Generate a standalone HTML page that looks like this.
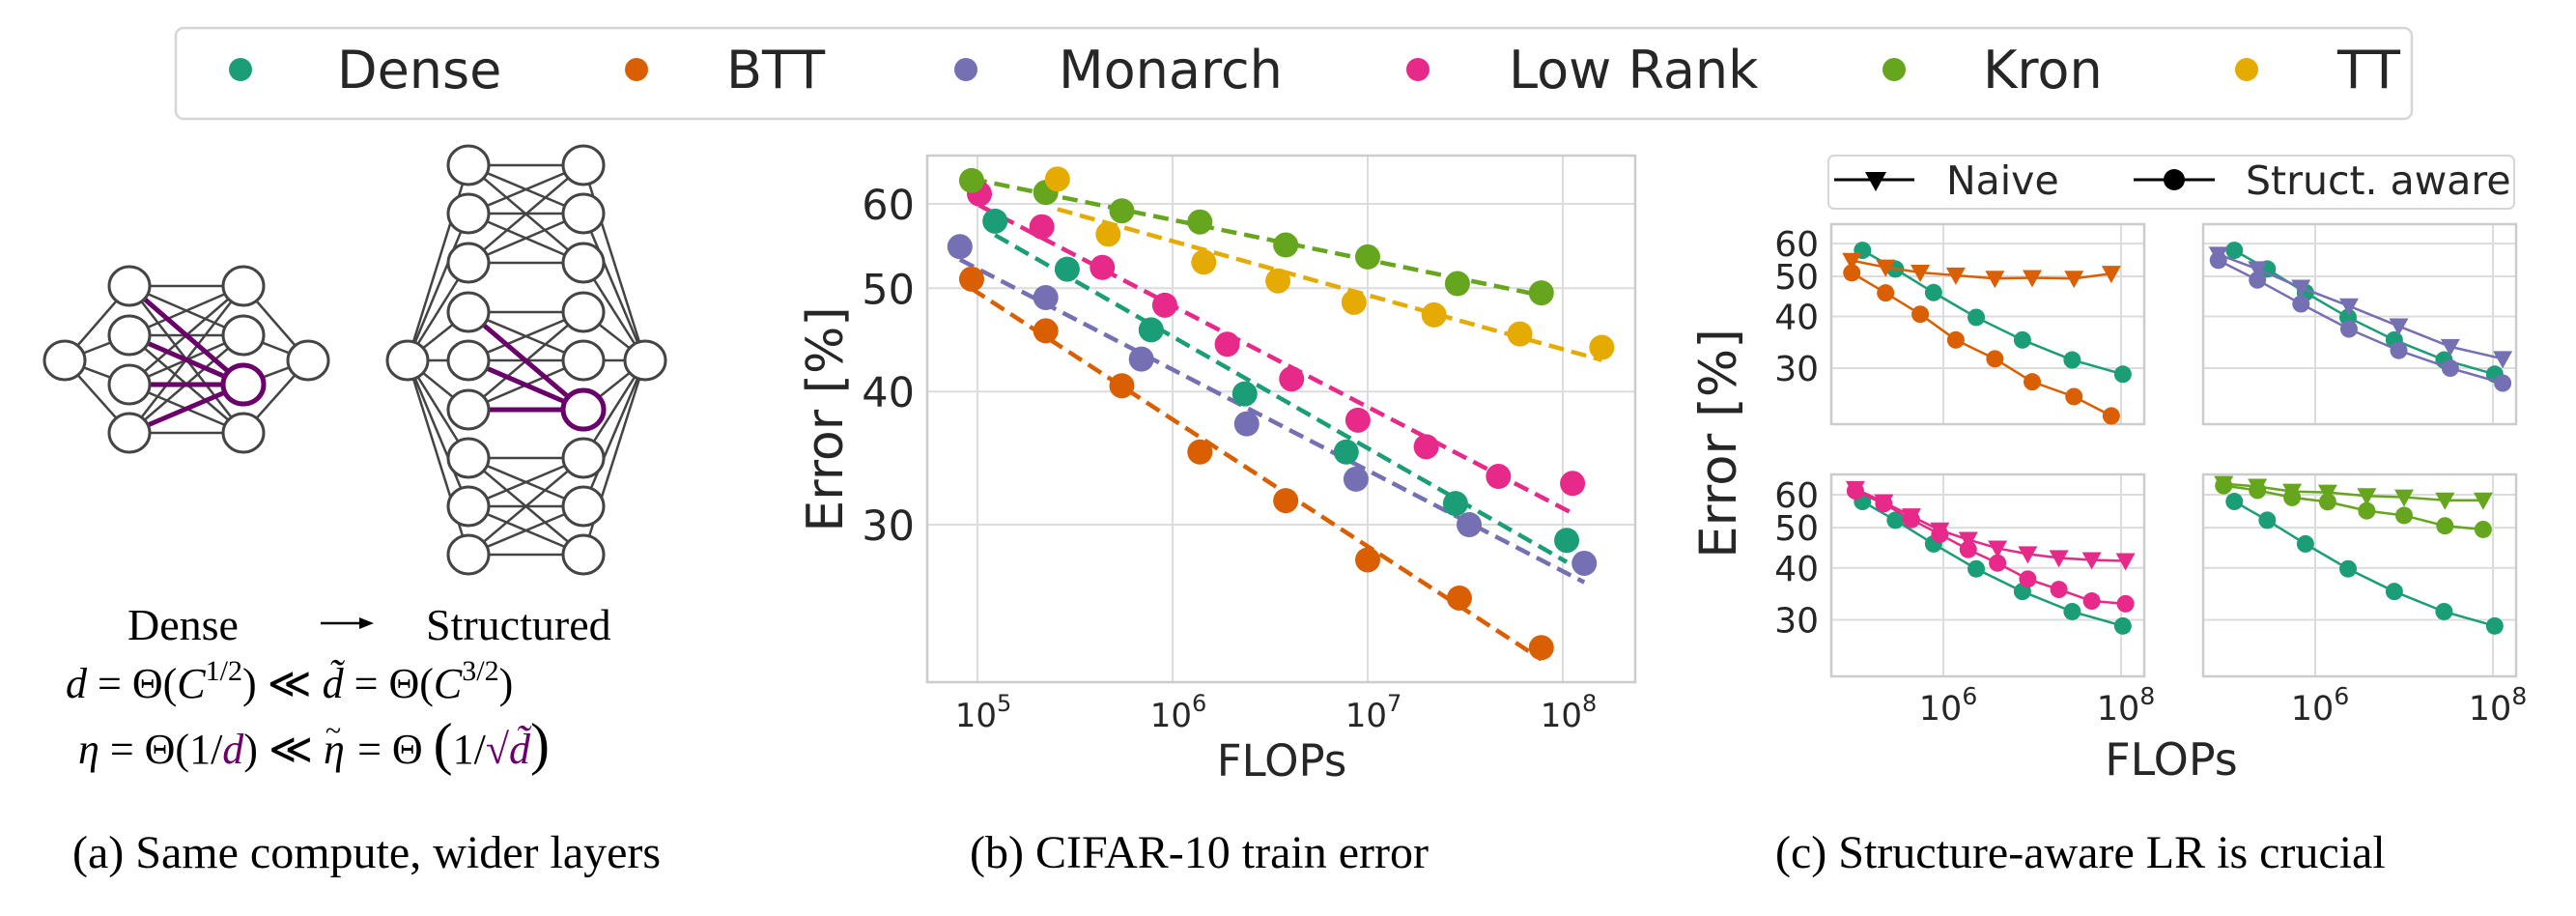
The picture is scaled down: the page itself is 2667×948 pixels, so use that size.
<!DOCTYPE html>
<html><head><meta charset="utf-8"><style>
html,body{margin:0;padding:0;background:#fff;}
svg{display:block;}
.tk{font-family:"DejaVu Sans","Liberation Sans",sans-serif;fill:#262626;}
.sr{font-family:"Liberation Serif",serif;fill:#000;}
</style></head><body>
<svg id="fig" width="2667" height="948" viewBox="0 0 2667 948" xmlns="http://www.w3.org/2000/svg">
<g id="legend">
<rect x="182" y="29" width="2315" height="94" rx="8" fill="#fff" stroke="#d6d6d6" stroke-width="2.5"/>
</g>
<g id="netA"></g>
<g id="netB"></g>
<g>
<text class="sr" x="132" y="662" font-size="46">Dense</text>
<line x1="332" y1="645" x2="380" y2="645" stroke="#000" stroke-width="2.5"/>
<path d="M372 639 L387 645 L372 651 Z" fill="#000"/>
<text class="sr" x="441" y="662" font-size="46">Structured</text>
</g>
<text class="sr" x="68" y="722" font-size="44"><tspan font-style="italic">d</tspan> = Θ(<tspan font-style="italic">C</tspan><tspan font-size="30" dy="-18">1/2</tspan><tspan dy="18">) ≪ </tspan><tspan font-style="italic">d̃</tspan> = Θ(<tspan font-style="italic">C</tspan><tspan font-size="30" dy="-18">3/2</tspan><tspan dy="18">)</tspan></text>
<text class="sr" x="81" y="790" font-size="44"><tspan font-style="italic">η</tspan> = Θ(1/<tspan font-style="italic" fill="#6a006a">d</tspan>)  ≪  <tspan font-style="italic">η</tspan><tspan dx="-20" dy="-24" font-size="30">~</tspan><tspan dx="6" dy="24"> = Θ </tspan><tspan font-size="60">(</tspan>1/<tspan fill="#6a006a">√<tspan font-style="italic">d̃</tspan></tspan><tspan font-size="60">)</tspan></text>
<text class="sr" x="75" y="898" font-size="48">(a) Same compute, wider layers</text>
<text class="sr" x="1004" y="898" font-size="48">(b) CIFAR-10 train error</text>
<text class="sr" x="1838" y="898" font-size="48">(c) Structure-aware LR is crucial</text>
<g id="mid"></g>
<g id="right"></g>
</svg>
<script>
// ---- data (log10 FLOPs, error %) ----
const seriesNames = ["Dense","BTT","Monarch","Low Rank","Kron","TT"];
const seriesColors = ["#1b9e77","#d95f02","#7570b3","#e7298a","#66a61e","#e6ab02"];
const denseX = [5.09,5.46,5.89,6.37,6.89,7.45,8.02];
const denseY = [57.8,52.1,45.7,39.8,35.1,31.4,29.0];
const bttX = [4.97,5.35,5.74,6.14,6.58,7.00,7.47,7.89];
const bttY = [51.0,45.6,40.5,35.1,31.6,27.8,25.6,23.0];
const monarchX = [4.91,5.35,5.84,6.38,6.94,7.52,8.11];
const monarchY = [54.7,49.0,42.9,37.3,33.1,30.0,27.6];
const lowrankX = [5.01,5.33,5.64,5.96,6.28,6.61,6.95,7.30,7.67,8.05];
const lowrankY = [61.3,57.1,52.3,48.2,44.3,41.1,37.6,35.5,33.3,32.8];
const kronX = [4.97,5.35,5.74,6.14,6.58,7.00,7.46,7.89];
const kronY = [63.1,61.5,59.1,57.7,54.9,53.5,50.5,49.5];
const ttX = [5.41,5.67,6.16,6.54,6.93,7.34,7.78,8.20];
const ttY = [63.3,56.2,52.9,50.8,48.5,47.2,45.3,44.0];
// naive-LR variants (panel c)
const bttNaiveY = [54.6,52.6,51.1,50.3,49.4,49.6,49.4,50.8];
const monarchNaiveY = [56.5,52.1,47.0,42.4,37.9,33.8,31.6];
const lowrankNaiveY = [62.0,57.6,53.3,49.3,46.8,44.6,43.2,42.3,41.8,41.6];
const kronNaiveY = [63.8,62.8,61.1,60.8,59.6,59.2,58.2,58.2];
const midXTicks = [5,6,7,8];
const midYTicks = [30,40,50,60];
const rightXTicks = [6,8];
const rightYTicks = [30,40,50,60];

const NS="http://www.w3.org/2000/svg";
function mk(parent,tag,attrs){const e=document.createElementNS(NS,tag);for(const k in attrs)e.setAttribute(k,attrs[k]);parent.appendChild(e);return e;}
const lg=Math.log10;

// ---- top legend ----
const legend=document.getElementById('legend');
const legDotX=[249,659,1000,1468,1961,2326];
const legTxtX=[349,752,1096,1562,2053,2420];
seriesNames.forEach((n,i)=>{
  const c=mk(legend,'circle',{cx:legDotX[i],cy:72,r:12,fill:seriesColors[i]});
  
  
  const t=mk(legend,'text',{x:legTxtX[i],y:91,'font-size':54,class:'tk'});
  t.textContent=n;
  
  
});

// ---- network diagrams ----
function net(g,inX,l1X,l2X,outX,rows,cy,edges,hiSrc,hiDst){
  const ln={stroke:'#444','stroke-width':2.5};
  rows.forEach(y=>{mk(g,'line',Object.assign({x1:inX,y1:cy,x2:l1X,y2:y},ln));mk(g,'line',Object.assign({x1:l2X,y1:y,x2:outX,y2:cy},ln));});
  edges.forEach(([a,b])=>mk(g,'line',Object.assign({x1:l1X,y1:rows[a],x2:l2X,y2:rows[b]},ln)));
  hiSrc.forEach(a=>mk(g,'line',{x1:l1X,y1:rows[a],x2:l2X,y2:rows[hiDst],stroke:'#6a006a','stroke-width':5}));
  const nd=(x,y,col,w)=>{const c=mk(g,'ellipse',{cx:x,cy:y,rx:21,ry:20,fill:'#fff',stroke:col,'stroke-width':w});};
  nd(inX,cy,'#444',3);nd(outX,cy,'#444',3);
  rows.forEach((y,i)=>{nd(l1X,y,'#444',3);nd(l2X,y,i===hiDst?'#6a006a':'#444',i===hiDst?5:3);});
}
const rowsA=[296,347,398,448];let eA=[];for(let a=0;a<4;a++)for(let b=0;b<4;b++)eA.push([a,b]);
net(document.getElementById('netA'),67,134,252,319,rowsA,373,eA,[0,1,2,3],2);
const rowsB=[171,221,272,323,373,424,474,524,574];let eB=[];
for(let g=0;g<3;g++)for(let a=0;a<3;a++)for(let b=0;b<3;b++)eB.push([g*3+a,g*3+b]);
net(document.getElementById('netB'),422,485,604,668,rowsB,373,eB,[3,4,5],5);

// ---- middle chart ----
const mid=document.getElementById('mid');
const mx=lx=>1012+(lx-5)*202;
const my=v=>543-1103*lg(v/30);
mk(mid,'rect',{x:960,y:161,width:733,height:545,fill:'#fff'});
midXTicks.forEach(t=>{
  const l=mk(mid,'line',{x1:mx(t),y1:161,x2:mx(t),y2:706,stroke:'#dcdcdc','stroke-width':2});
  
  const tx=mk(mid,'text',{x:mx(t)+6,y:752,'font-size':34,'text-anchor':'middle',class:'tk'});
  tx.innerHTML='10<tspan font-size="24" dy="-16">'+t+'</tspan>';
  
});
midYTicks.forEach(t=>{
  const l=mk(mid,'line',{x1:960,y1:my(t),x2:1693,y2:my(t),stroke:'#dcdcdc','stroke-width':2});
  
  const tx=mk(mid,'text',{x:947,y:my(t)+16,'font-size':43,'text-anchor':'end',class:'tk'});
  tx.textContent=t;
  
});
mk(mid,'rect',{x:960,y:161,width:733,height:545,fill:'none',stroke:'#cccccc','stroke-width':2.5});
const yl=mk(mid,'text',{x:0,y:0,'font-size':52,'text-anchor':'middle',class:'tk',transform:'translate(872,434) rotate(-90)'});
yl.textContent='Error [%]';
const xl=mk(mid,'text',{x:1327,y:803,'font-size':45,'text-anchor':'middle',class:'tk'});
xl.textContent='FLOPs';
const midSeries=[[denseX,denseY],[bttX,bttY],[monarchX,monarchY],[lowrankX,lowrankY],[kronX,kronY],[ttX,ttY]];
function fit(xs,ys){const n=xs.length;const ly=ys.map(lg);const mxv=xs.reduce((a,b)=>a+b)/n,myv=ly.reduce((a,b)=>a+b)/n;let sxy=0,sxx=0;for(let i=0;i<n;i++){sxy+=(xs[i]-mxv)*(ly[i]-myv);sxx+=(xs[i]-mxv)**2;}const b=sxy/sxx;return x=>Math.pow(10,myv+b*(x-mxv));}
midSeries.forEach(([xs,ys],i)=>{
  const f=fit(xs,ys);const x0=xs[0],x1=xs[xs.length-1];
  const l=mk(mid,'line',{x1:mx(x0),y1:my(f(x0)),x2:mx(x1),y2:my(f(x1)),stroke:seriesColors[i],'stroke-width':4.5,'stroke-dasharray':'16 8'});
  
});
midSeries.forEach(([xs,ys],i)=>{
  xs.forEach((x,j)=>{
    const c=mk(mid,'circle',{cx:mx(x),cy:my(ys[j]),r:13,fill:seriesColors[i]});
    
  });
});

// ---- right chart (2x2) ----
const right=document.getElementById('right');
const lgBox=mk(right,'rect',{x:1893,y:161,width:710,height:55,rx:6,fill:'#fff',stroke:'#d6d6d6','stroke-width':2});

mk(right,'line',{x1:1899,y1:186,x2:1982,y2:186,stroke:'#000','stroke-width':3});
mk(right,'path',{d:'M1931 178 L1953 178 L1942 198 Z',fill:'#000'});
const tn=mk(right,'text',{x:2015,y:201,'font-size':41,class:'tk'});tn.textContent='Naive';

mk(right,'line',{x1:2209,y1:186,x2:2293,y2:186,stroke:'#000','stroke-width':3});
mk(right,'circle',{cx:2251,cy:186,r:11,fill:'#000'});
const ts=mk(right,'text',{x:2325,y:201,'font-size':41,class:'tk'});ts.textContent='Struct. aware';


const panels=[
 {ox:2012,top:232,bot:439,y30:381,dec:428,idx:1,xs:bttX,naive:bttNaiveY,aware:bttY},
 {ox:2397,top:232,bot:439,y30:381,dec:428,idx:2,xs:monarchX,naive:monarchNaiveY,aware:monarchY},
 {ox:2012,top:491,bot:700,y30:641.5,dec:430,idx:3,xs:lowrankX,naive:lowrankNaiveY,aware:lowrankY},
 {ox:2397,top:491,bot:700,y30:641.5,dec:430,idx:4,xs:kronX,naive:kronNaiveY,aware:kronY}
];
panels.forEach((p,pi)=>{
  const g=mk(right,'g',{});
  
  
  const px=lx=>p.ox+(lx-6)*92;
  const py=v=>p.y30-p.dec*lg(v/30);
  const L=p.ox-116,R=p.ox+208;
  rightXTicks.forEach(t=>{
    mk(g,'line',{x1:px(t),y1:p.top,x2:px(t),y2:p.bot,stroke:'#dcdcdc','stroke-width':2});
    if(pi>=2){const tx=mk(g,'text',{x:px(t)+5,y:745,'font-size':35,'text-anchor':'middle',class:'tk'});
      tx.innerHTML='10<tspan font-size="25" dy="-16">'+t+'</tspan>';
      }
  });
  rightYTicks.forEach(t=>{
    mk(g,'line',{x1:L,y1:py(t),x2:R,y2:py(t),stroke:'#dcdcdc','stroke-width':2});
    if(pi%2===0){const tx=mk(g,'text',{x:1883,y:py(t)+13,'font-size':36,'text-anchor':'end',class:'tk'});
      tx.textContent=t;}
  });
  mk(g,'rect',{x:L,y:p.top,width:R-L,height:p.bot-p.top,fill:'none',stroke:'#cccccc','stroke-width':2.5});
  const col=seriesColors[p.idx];
  const line=(xs,ys,c)=>{const pl=mk(g,'polyline',{points:xs.map((x,j)=>px(x)+','+py(ys[j])).join(' '),fill:'none',stroke:c,'stroke-width':2.5});};
  line(denseX,denseY,seriesColors[0]);
  denseX.forEach((x,j)=>{const c=mk(g,'circle',{cx:px(x),cy:py(denseY[j]),r:9,fill:seriesColors[0]});});
  line(p.xs,p.naive,col);
  p.xs.forEach((x,j)=>{const X=px(x),Y=py(p.naive[j]);const t=mk(g,'path',{d:`M${X-10} ${Y-8} L${X+10} ${Y-8} L${X} ${Y+10} Z`,fill:col});});
  line(p.xs,p.aware,col);
  p.xs.forEach((x,j)=>{const c=mk(g,'circle',{cx:px(x),cy:py(p.aware[j]),r:9,fill:col});});
});
const ryl=mk(right,'text',{x:0,y:0,'font-size':53,'text-anchor':'middle',class:'tk',transform:'translate(1797,459) rotate(-90)'});
ryl.textContent='Error [%]';
const rxl=mk(right,'text',{x:2248,y:802,'font-size':46,'text-anchor':'middle',class:'tk'});
rxl.textContent='FLOPs';
</script>
</body></html>
